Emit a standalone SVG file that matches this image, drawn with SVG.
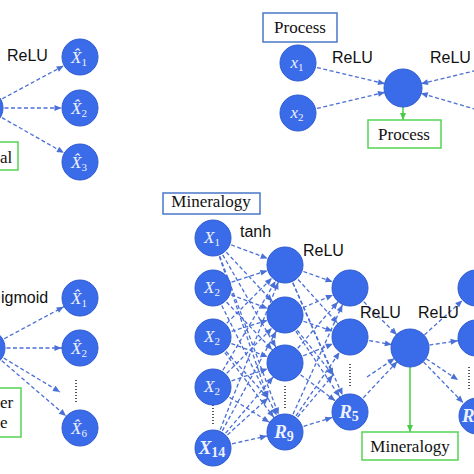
<svg xmlns="http://www.w3.org/2000/svg" width="474" height="474" viewBox="0 0 474 474">
<defs>
<style>
.bg{fill:#ffffff}
.n{fill:#3a6be8;stroke:#2f5bd0;stroke-width:1}
.d{stroke:#4a6fd6;stroke-width:1.3;stroke-dasharray:4 2.5;fill:none}
.a{marker-end:url(#ah)}
.p{marker-end:url(#ap)}
.g{stroke:#44cc44;stroke-width:1.5;fill:none;marker-end:url(#ag)}
.bb{fill:#ffffff;stroke:#4a78c8;stroke-width:1.5}
.gb{fill:#ffffff;stroke:#55d455;stroke-width:1.5}
.lab{font-family:"Liberation Serif","Times New Roman",serif;font-size:17px;fill:#111}
.fn{font-family:"Liberation Sans",Arial,sans-serif;font-size:16px;fill:#111}
.v{font-family:"Liberation Serif","Times New Roman",serif;font-style:italic;font-size:17px;fill:#eef2ff}
.vb{font-family:"Liberation Serif","Times New Roman",serif;font-style:italic;font-weight:bold;font-size:19px;fill:#eef2ff}
.s{font-style:normal;font-size:11px}
.sb{font-style:normal;font-size:14px}
.dots{stroke:#222;stroke-width:1.5;stroke-dasharray:1 2}
</style>
<marker id="ah" markerUnits="userSpaceOnUse" markerWidth="7" markerHeight="6" refX="25.5" refY="3" orient="auto" overflow="visible"><path d="M0,0 L7,3 L0,6 z" fill="#4a6fd6"/></marker>
<marker id="ap" markerUnits="userSpaceOnUse" markerWidth="7" markerHeight="6" refX="7" refY="3" orient="auto" overflow="visible"><path d="M0,0 L7,3 L0,6 z" fill="#4a6fd6"/></marker>
<marker id="ag" markerUnits="userSpaceOnUse" markerWidth="7" markerHeight="6" refX="7" refY="3" orient="auto" overflow="visible"><path d="M0,0 L7,3 L0,6 z" fill="#44cc44"/></marker>
</defs>
<rect class="bg" x="0" y="0" width="474" height="474"/>

<g id="connectors">
<line class="d a" x1="-15" y1="108" x2="80" y2="57"/>
<line class="d a" x1="-15" y1="108" x2="80" y2="108"/>
<line class="d a" x1="-15" y1="108" x2="80" y2="162"/>
<line class="d a" x1="298" y1="63" x2="403" y2="88"/>
<line class="d a" x1="298" y1="113" x2="403" y2="88"/>
<line class="d a" x1="495" y1="66" x2="403" y2="88"/>
<line class="d a" x1="495" y1="115" x2="403" y2="88"/>
<line class="g" x1="403" y1="107" x2="403" y2="120"/>
<line class="d a" x1="-13" y1="348" x2="80" y2="298"/>
<line class="d a" x1="-13" y1="348" x2="80" y2="348"/>
<line class="d p" x1="-13" y1="348" x2="60" y2="392"/>
<line class="d a" x1="-13" y1="348" x2="80" y2="428"/>
<line class="d a" x1="213" y1="238" x2="285" y2="265"/>
<line class="d a" x1="213" y1="238" x2="285" y2="315"/>
<line class="d a" x1="213" y1="238" x2="285" y2="363"/>
<line class="d a" x1="213" y1="238" x2="285" y2="432"/>
<line class="d a" x1="213" y1="288" x2="285" y2="265"/>
<line class="d a" x1="213" y1="288" x2="285" y2="315"/>
<line class="d a" x1="213" y1="288" x2="285" y2="363"/>
<line class="d a" x1="213" y1="288" x2="285" y2="432"/>
<line class="d a" x1="213" y1="337" x2="285" y2="265"/>
<line class="d a" x1="213" y1="337" x2="285" y2="315"/>
<line class="d a" x1="213" y1="337" x2="285" y2="363"/>
<line class="d a" x1="213" y1="337" x2="285" y2="432"/>
<line class="d a" x1="213" y1="387" x2="285" y2="265"/>
<line class="d a" x1="213" y1="387" x2="285" y2="315"/>
<line class="d a" x1="213" y1="387" x2="285" y2="363"/>
<line class="d a" x1="213" y1="387" x2="285" y2="432"/>
<line class="d a" x1="213" y1="448" x2="285" y2="265"/>
<line class="d a" x1="213" y1="448" x2="285" y2="315"/>
<line class="d a" x1="213" y1="448" x2="285" y2="363"/>
<line class="d a" x1="213" y1="448" x2="285" y2="432"/>
<line class="d p" x1="213" y1="238" x2="268" y2="398"/>
<line class="d p" x1="213" y1="337" x2="268" y2="398"/>
<line class="d p" x1="213" y1="448" x2="268" y2="398"/>
<line class="d a" x1="285" y1="265" x2="350" y2="288"/>
<line class="d a" x1="285" y1="265" x2="350" y2="337"/>
<line class="d a" x1="285" y1="265" x2="350" y2="412"/>
<line class="d a" x1="285" y1="315" x2="350" y2="288"/>
<line class="d a" x1="285" y1="315" x2="350" y2="337"/>
<line class="d a" x1="285" y1="315" x2="350" y2="412"/>
<line class="d a" x1="285" y1="363" x2="350" y2="288"/>
<line class="d a" x1="285" y1="363" x2="350" y2="337"/>
<line class="d a" x1="285" y1="363" x2="350" y2="412"/>
<line class="d a" x1="285" y1="432" x2="350" y2="288"/>
<line class="d a" x1="285" y1="432" x2="350" y2="337"/>
<line class="d a" x1="285" y1="432" x2="350" y2="412"/>
<line class="d p" x1="285" y1="265" x2="333" y2="375"/>
<line class="d p" x1="285" y1="315" x2="333" y2="375"/>
<line class="d p" x1="285" y1="432" x2="333" y2="375"/>
<line class="d a" x1="350" y1="288" x2="410" y2="348"/>
<line class="d a" x1="350" y1="337" x2="410" y2="348"/>
<line class="d a" x1="350" y1="412" x2="410" y2="348"/>
<line class="d a" x1="367" y1="377" x2="410" y2="348"/>
<line class="d a" x1="410" y1="348" x2="476" y2="288"/>
<line class="d a" x1="410" y1="348" x2="476" y2="338"/>
<line class="d a" x1="410" y1="348" x2="476" y2="416"/>
<line class="d p" x1="410" y1="348" x2="458" y2="380"/>
<line class="g" x1="410" y1="367" x2="410" y2="432"/>
</g>

<g id="ellipsis">
<line class="dots" x1="76" y1="380" x2="76" y2="404"/>
<line class="dots" x1="213" y1="405" x2="213" y2="426"/>
<line class="dots" x1="285" y1="386" x2="285" y2="408"/>
<line class="dots" x1="350" y1="364" x2="350" y2="388"/>
<line class="dots" x1="469" y1="367" x2="469" y2="391"/>
</g>

<g id="tl-hidden"><circle class="n" cx="-15" cy="108" r="18"/></g>
<g id="tl-o1"><circle class="n" cx="80" cy="57" r="18"/><text class="v" x="79" y="63" text-anchor="middle">X̂<tspan class="s" dy="3">1</tspan></text></g>
<g id="tl-o2"><circle class="n" cx="80" cy="108" r="18"/><text class="v" x="79" y="114" text-anchor="middle">X̂<tspan class="s" dy="3">2</tspan></text></g>
<g id="tl-o3"><circle class="n" cx="80" cy="162" r="18"/><text class="v" x="79" y="168" text-anchor="middle">X̂<tspan class="s" dy="3">3</tspan></text></g>
<text class="fn" x="7" y="61">ReLU</text>
<g id="tl-box"><rect class="gb" x="-10" y="142" width="28" height="28"/><text class="lab" x="0" y="163">al</text></g>

<g id="tr-title"><rect class="bb" x="263" y="13" width="74" height="29"/><text class="lab" x="300" y="33" text-anchor="middle">Process</text></g>
<g id="tr-x1"><circle class="n" cx="298" cy="63" r="18"/><text class="v" x="297" y="68" text-anchor="middle">x<tspan class="s" dy="3">1</tspan></text></g>
<g id="tr-x2"><circle class="n" cx="298" cy="113" r="18"/><text class="v" x="297" y="118" text-anchor="middle">x<tspan class="s" dy="3">2</tspan></text></g>
<g id="tr-h"><circle class="n" cx="403" cy="88" r="19"/></g>
<text class="fn" x="332" y="63">ReLU</text>
<text class="fn" x="430" y="63">ReLU</text>
<g id="tr-box"><rect class="gb" x="368" y="120" width="73" height="28"/><text class="lab" x="404" y="140" text-anchor="middle">Process</text></g>

<g id="bl-hidden"><circle class="n" cx="-13" cy="348" r="18"/></g>
<g id="bl-o1"><circle class="n" cx="80" cy="298" r="18"/><text class="v" x="79" y="304" text-anchor="middle">X̂<tspan class="s" dy="3">1</tspan></text></g>
<g id="bl-o2"><circle class="n" cx="80" cy="348" r="18"/><text class="v" x="79" y="354" text-anchor="middle">X̂<tspan class="s" dy="3">2</tspan></text></g>
<g id="bl-o6"><circle class="n" cx="80" cy="428" r="18"/><text class="v" x="79" y="434" text-anchor="middle">X̂<tspan class="s" dy="3">6</tspan></text></g>
<text class="fn" x="1" y="303">igmoid</text>
<g id="bl-box"><rect class="gb" x="-10" y="388" width="31" height="49"/><text class="lab" x="0" y="408">er</text><text class="lab" x="0" y="428">e</text></g>

<g id="mn-title"><rect class="bb" x="163" y="193" width="97" height="21"/><text class="lab" x="211" y="207" text-anchor="middle">Mineralogy</text></g>
<g id="in1"><circle class="n" cx="213" cy="238" r="18"/><text class="v" x="212" y="243" text-anchor="middle">X<tspan class="s" dy="3">1</tspan></text></g>
<g id="in2"><circle class="n" cx="213" cy="288" r="18"/><text class="v" x="212" y="293" text-anchor="middle">X<tspan class="s" dy="3">2</tspan></text></g>
<g id="in3"><circle class="n" cx="213" cy="337" r="18"/><text class="v" x="212" y="342" text-anchor="middle">X<tspan class="s" dy="3">2</tspan></text></g>
<g id="in4"><circle class="n" cx="213" cy="387" r="18"/><text class="v" x="212" y="392" text-anchor="middle">X<tspan class="s" dy="3">2</tspan></text></g>
<g id="in14"><circle class="n" cx="213" cy="448" r="18"/><text class="vb" x="212" y="454" text-anchor="middle">X<tspan class="sb" dy="3">14</tspan></text></g>
<g id="h1a"><circle class="n" cx="285" cy="265" r="18"/></g>
<g id="h1b"><circle class="n" cx="285" cy="315" r="18"/></g>
<g id="h1c"><circle class="n" cx="285" cy="363" r="18"/></g>
<g id="h1r9"><circle class="n" cx="285" cy="432" r="18"/><text class="vb" x="284" y="438" text-anchor="middle">R<tspan class="sb" dy="3">9</tspan></text></g>
<g id="h2a"><circle class="n" cx="350" cy="288" r="18"/></g>
<g id="h2b"><circle class="n" cx="350" cy="337" r="18"/></g>
<g id="h2r5"><circle class="n" cx="350" cy="412" r="18"/><text class="vb" x="349" y="418" text-anchor="middle">R<tspan class="sb" dy="3">5</tspan></text></g>
<g id="mid"><circle class="n" cx="410" cy="348" r="19"/></g>
<g id="oa"><circle class="n" cx="476" cy="288" r="18"/></g>
<g id="ob"><circle class="n" cx="476" cy="338" r="18"/></g>
<g id="or"><circle class="n" cx="477" cy="416" r="18"/><text class="vb" x="462" y="422">R</text></g>
<text class="fn" x="240" y="237">tanh</text>
<text class="fn" x="303" y="256">ReLU</text>
<text class="fn" x="360" y="318">ReLU</text>
<text class="fn" x="418" y="318">ReLU</text>
<g id="mn-box"><rect class="gb" x="362" y="432" width="96" height="28"/><text class="lab" x="410" y="452" text-anchor="middle">Mineralogy</text></g>
</svg>
